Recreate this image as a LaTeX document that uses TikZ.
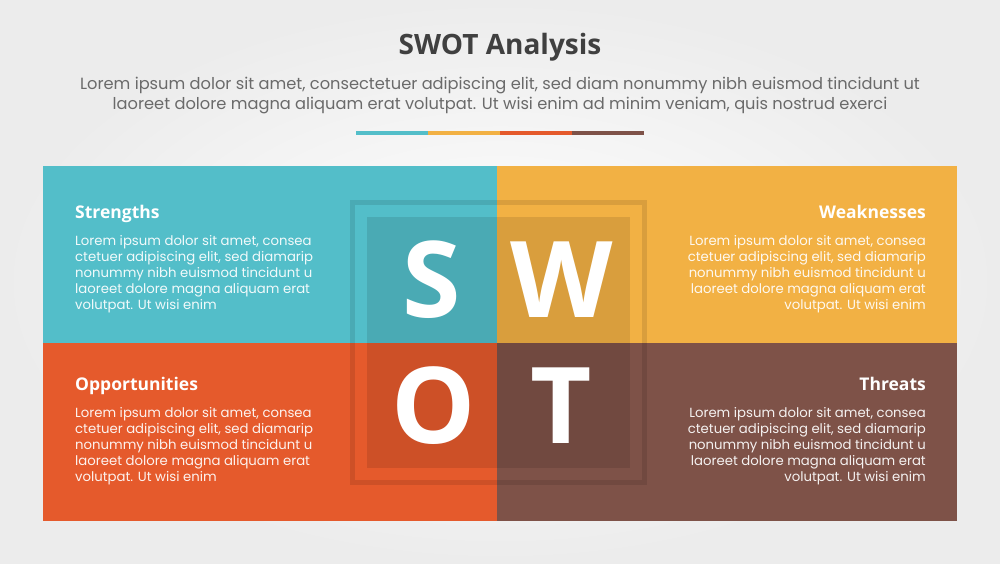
\documentclass[tikz,border=0pt]{standalone}
\usepackage{fontspec}
\setmainfont{Poppins}
\newfontfamily\headfont{Open Sans}
\usetikzlibrary{positioning}

\definecolor{swotteal}{HTML}{53BEC9}
\definecolor{swotyellow}{HTML}{F2B144}
\definecolor{swotorange}{HTML}{E55A2C}
\definecolor{swotbrown}{HTML}{7E5248}
\definecolor{titlegray}{HTML}{404040}
\definecolor{subgray}{HTML}{6A6A6A}
\definecolor{bgedge}{HTML}{ECECEC}

\begin{document}
\begin{tikzpicture}[x=1pt,y=-1pt,
  quad box/.style={rectangle,inner sep=0pt,anchor=north west,minimum height=177},
  quad title/.style={inner sep=0pt,text=white,font=\headfont\bfseries\fontsize{17.5}{20}\selectfont},
  quad text/.style={inner sep=0pt,text=white,text opacity=0.92,font=\fontsize{13.25}{16}\selectfont},
  big letter/.style={inner sep=0pt,anchor=base,text=white,font=\headfont\bfseries\fontsize{106}{110}\selectfont},
  overlay box/.style={black,opacity=0.1}]

  \shade[inner color=white,outer color=bgedge] (0,0) rectangle (1000,563);

  \node[anchor=base,inner sep=0pt,text=titlegray,font=\headfont\bfseries\fontsize{28}{32}\selectfont]
    (title) at (500,54) {SWOT Analysis};
  \node[anchor=base,inner sep=0pt,text=subgray,align=center,font=\fontsize{16.25}{20}\selectfont]
    (subtitle) at (500,109) {Lorem ipsum dolor sit amet, consectetuer adipiscing elit, sed diam nonummy nibh euismod tincidunt ut\\
    laoreet dolore magna aliquam erat volutpat. Ut wisi enim ad minim veniam, quis nostrud exerci};

  \foreach \c [count=\i from 0] in {swotteal,swotyellow,swotorange,swotbrown}
    \fill[\c] (356+72*\i,131) rectangle ++(72,4);

  \node[quad box,fill=swotteal,minimum width=454] (S box) at (43,166) {};
  \node[quad box,fill=swotyellow,minimum width=460] (W box) at (497,166) {};
  \node[quad box,fill=swotorange,minimum width=454,minimum height=178] (O box) at (43,343) {};
  \node[quad box,fill=swotbrown,minimum width=460,minimum height=178] (T box) at (497,343) {};

  \fill[overlay box] (367,217) rectangle (630,468);
  \draw[overlay box,line width=5pt] (352.5,202.5) rectangle (644.5,482.5);

  \node[big letter] (S letter) at (432,317) {S};
  \node[big letter] (W letter) at (562,317) {W};
  \node[big letter] (O letter) at (434,443) {O};
  \node[big letter] (T letter) at (561,443) {T};

  \node[quad title,anchor=base west] (S title) at (75,218) {Strengths};
  \node[quad title,anchor=base east] (W title) at (926,218) {Weaknesses};
  \node[quad title,anchor=base west] (O title) at (75,390) {Opportunities};
  \node[quad title,anchor=base east] (T title) at (926,390) {Threats};

  \node[quad text,align=left,anchor=north west] (S text) at (75,235)
    {Lorem ipsum dolor sit amet, consea\\ctetuer adipiscing elit, sed diamarip\\nonummy nibh euismod tincidunt u\\laoreet dolore magna aliquam erat\\volutpat. Ut wisi enim};
  \node[quad text,align=right,anchor=north east] (W text) at (926,235)
    {Lorem ipsum dolor sit amet, consea\\ctetuer adipiscing elit, sed diamarip\\nonummy nibh euismod tincidunt u\\laoreet dolore magna aliquam erat\\volutpat. Ut wisi enim};
  \node[quad text,align=left,anchor=north west] (O text) at (75,407)
    {Lorem ipsum dolor sit amet, consea\\ctetuer adipiscing elit, sed diamarip\\nonummy nibh euismod tincidunt u\\laoreet dolore magna aliquam erat\\volutpat. Ut wisi enim};
  \node[quad text,align=right,anchor=north east] (T text) at (926,407)
    {Lorem ipsum dolor sit amet, consea\\ctetuer adipiscing elit, sed diamarip\\nonummy nibh euismod tincidunt u\\laoreet dolore magna aliquam erat\\volutpat. Ut wisi enim};
\end{tikzpicture}
\end{document}
